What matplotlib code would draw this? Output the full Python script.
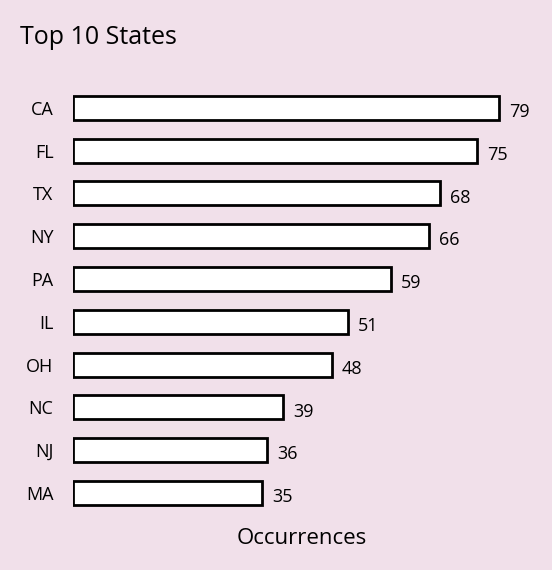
import matplotlib
matplotlib.use("Agg")
import matplotlib.pyplot as plt

states = ["CA", "FL", "TX", "NY", "PA", "IL", "OH", "NC", "NJ", "MA"]
counts = [79, 75, 68, 66, 59, 51, 48, 39, 36, 35]

plt.rcParams['font.family'] = ['Open Sans', 'DejaVu Sans']
bg = "#f1e0ea"
fig = plt.figure(figsize=(5.52, 5.70), dpi=100, facecolor=bg)
ax = fig.add_axes([73/552, (570-514.4)/570, (540-73)/552, 428/570])
ax.set_facecolor(bg)
y = list(range(len(states)))
ax.barh(y, counts, height=0.56, color="white", edgecolor="black", linewidth=2)
for yi, c in zip(y, counts):
    ax.text(c + 1.9, yi + 0.1, str(c), va="center", ha="left", fontsize=13)
ax.set_yticks(y)
ax.set_yticklabels(states, fontsize=13)
ax.tick_params(axis="y", length=0, pad=14)
ax.set_xticks([])
ax.set_xlim(0, (540-73)/5.39)
ax.set_ylim(9.5, -0.5)
for s in ax.spines.values():
    s.set_visible(False)
fig.text(20/552, 1-38/570, "Top 10 States", fontsize=18, va="center", ha="left")
fig.text(302/552, 1-538/570, "Occurrences", fontsize=16, va="center", ha="center")
fig.savefig("out.png", facecolor=bg)
